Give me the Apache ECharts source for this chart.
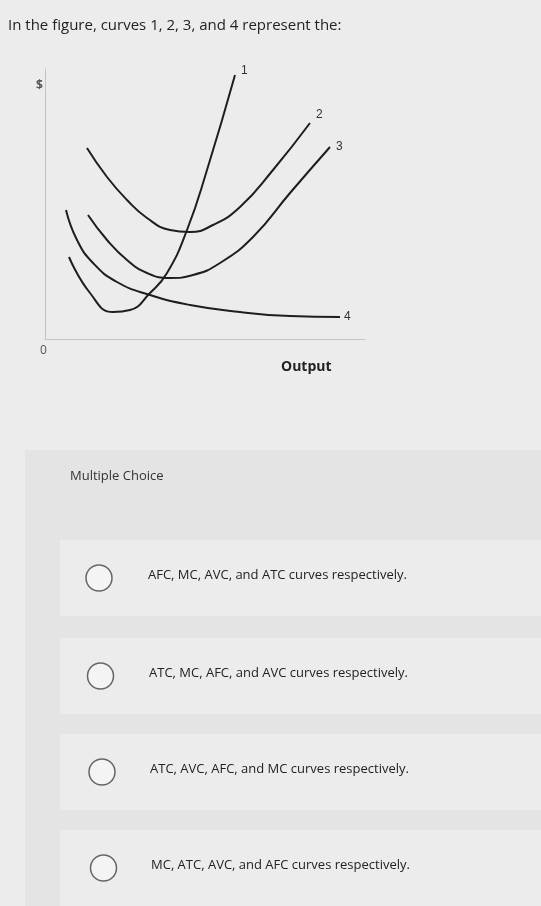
<!DOCTYPE html>
<html>
<head>
<meta charset="utf-8">
<script src="https://cdn.jsdelivr.net/npm/echarts@6/dist/echarts.min.js"></script>
<style>
  html, body { margin: 0; padding: 0; background: #ececec; }
  #chart { width: 541px; height: 906px; }
</style>
</head>
<body>
<div id="chart"></div>
<script>
// curve points (output, $)
var mc = [[24, 82], [45, 46], [68, 27], [85, 29], [105, 46], [122, 66], [142, 109], [162, 169], [190, 264]];
var atc = [[42, 191], [62, 162], [82, 139], [102, 121], [125, 109], [145, 107], [168, 114], [195, 132], [228, 169], [265, 216]];
var avc = [[43, 124], [62, 99], [82, 79], [102, 66], [125, 61], [148, 64], [175, 76], [208, 102], [245, 146], [285, 192]];
var afc = [[21, 129], [32, 99], [48, 76], [72, 57], [105, 44], [145, 34], [195, 27], [245, 23], [295, 22]];
var curveLabels = ['1', '2', '3', '4'];

var question = 'In the figure, curves 1, 2, 3, and 4 represent the:';
var choices = [
  'AFC, MC, AVC, and ATC curves respectively.',
  'ATC, MC, AFC, and AVC curves respectively.',
  'ATC, AVC, AFC, and MC curves respectively.',
  'MC, ATC, AVC, and AFC curves respectively.'
];
var choiceY = [578, 676, 772, 868];

var chart = echarts.init(document.getElementById('chart'));

function curve(data, label, pos) {
  return {
    type: 'line',
    data: data,
    smooth: 0.5,
    symbol: 'none',
    lineStyle: { color: '#1e1e1e', width: 2 },
    endLabel: {
      show: true,
      formatter: label,
      color: '#333',
      fontSize: 12,
      distance: 4,
      offset: pos
    },
    silent: true
  };
}

var graphics = [
  { type: 'text', left: 8, top: 18, style: { text: question, fill: '#222', font: '15px "Open Sans", sans-serif' } },
  { type: 'text', left: 36, top: 80, style: { text: '$', fill: '#555', font: 'bold 12px "Open Sans", sans-serif' } },
  { type: 'text', left: 40, top: 345, style: { text: '0', fill: '#555', font: '12px "Open Sans", sans-serif' } },
  { type: 'text', left: 281, top: 360, style: { text: 'Output', fill: '#222', font: 'bold 14px "Open Sans", sans-serif' } },
  { type: 'rect', shape: { x: 25, y: 450, width: 516, height: 456 }, style: { fill: '#e4e4e4' }, z: -10 },
  { type: 'text', left: 70, top: 470, style: { text: 'Multiple Choice', fill: '#333', font: '13px "Open Sans", sans-serif' } }
];
choices.forEach(function (c, i) {
  var y = choiceY[i];
  graphics.push({ type: 'rect', shape: { x: 60, y: y - 38, width: 481, height: 76 }, style: { fill: '#ececec' }, z: -9 });
  graphics.push({ type: 'circle', shape: { cx: 99 + i * 1.5, cy: y, r: 13 }, style: { fill: '#f4f4f4', stroke: '#666', lineWidth: 1.5 } });
  graphics.push({ type: 'text', left: 148 + i, top: y - 9, style: { text: c, fill: '#222', font: '13px "Open Sans", sans-serif' } });
});

chart.setOption({
  animation: false,
  grid: { left: 45, top: 69, width: 320, height: 270 },
  xAxis: {
    type: 'value', min: 0, max: 320,
    axisLine: { show: true, lineStyle: { color: '#c4c4c4' } },
    axisTick: { show: false }, axisLabel: { show: false }, splitLine: { show: false }
  },
  yAxis: {
    type: 'value', min: 0, max: 270,
    axisLine: { show: true, lineStyle: { color: '#c4c4c4' } },
    axisTick: { show: false }, axisLabel: { show: false }, splitLine: { show: false }
  },
  graphic: graphics,
  series: [
    curve(mc, curveLabels[0], [2, -4]),
    curve(atc, curveLabels[1], [2, -8]),
    curve(avc, curveLabels[2], [2, 0]),
    curve(afc, curveLabels[3], [0, 0])
  ]
});
</script>
</body>
</html>
